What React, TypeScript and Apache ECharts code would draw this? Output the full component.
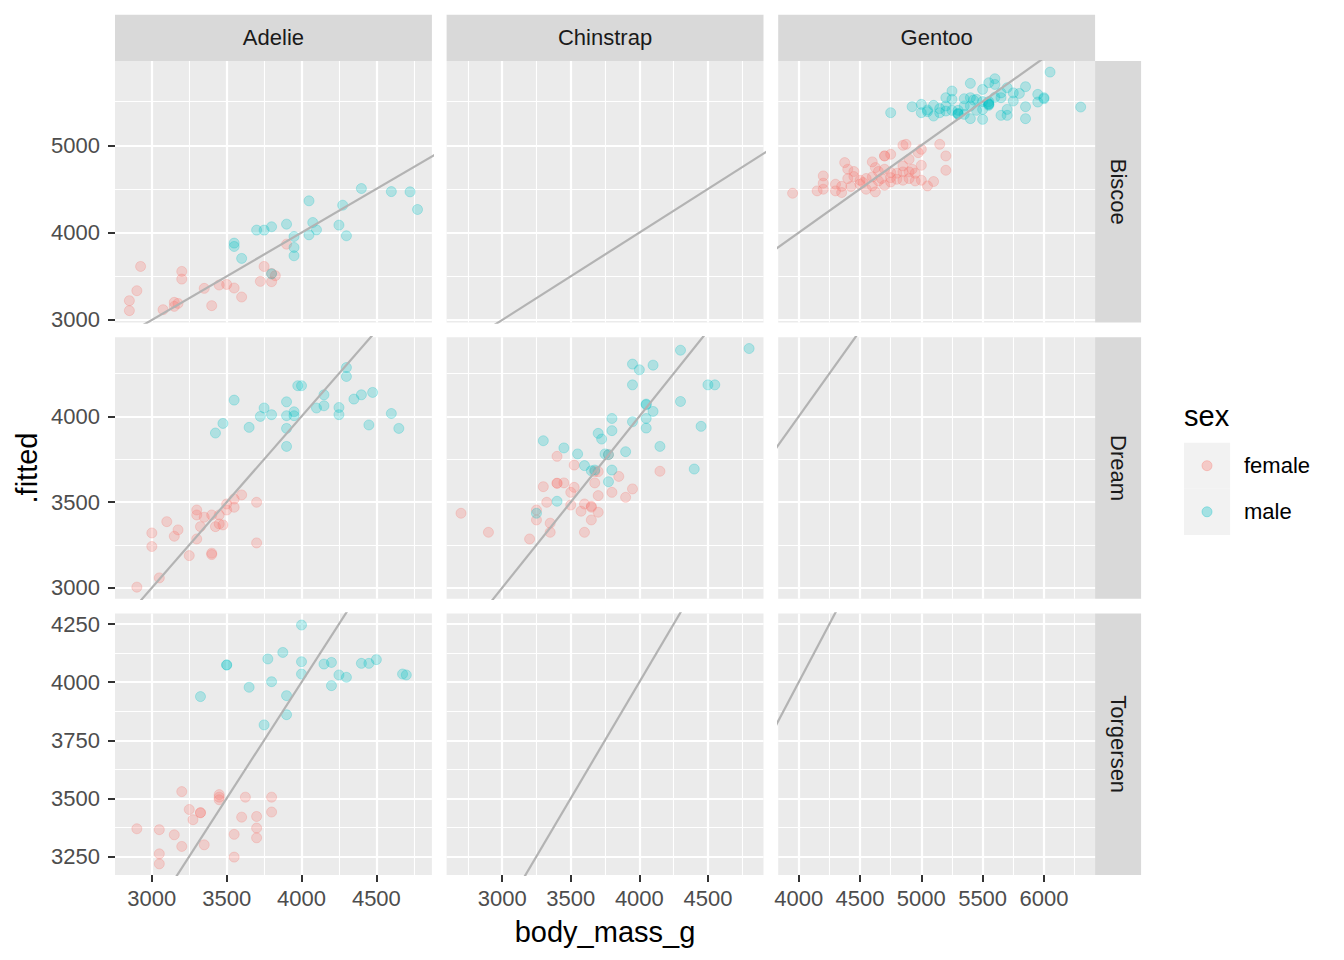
import React, { useEffect, useRef } from "react";
import * as echarts from "echarts";

// ---------- categories ----------
const species = ["Adelie", "Chinstrap", "Gentoo"];
const islands = ["Biscoe", "Dream", "Torgersen"];
const sexes = ["female", "male"];
const sexColors = ["248,118,109", "0,191,196"];

// ---------- axis ranges & ticks ----------
const xRanges: [number, number][] = [[2754, 4871], [2595, 4905], [3832.5, 6417.5]];
const yRanges: [number, number][] = [[2970, 5965], [2936, 4462], [3170, 4296]];
const xTicks = [[3000, 3500, 4000, 4500], [3000, 3500, 4000, 4500], [4000, 4500, 5000, 5500, 6000]];
const yTicks = [[3000, 4000, 5000], [3000, 3500, 4000], [3250, 3500, 3750, 4000, 4250]];
const xIntervals = [500, 500, 500];
const yIntervals = [1000, 500, 250];

// ---------- data: [body_mass_g, .fitted] ----------
const adelieBiscoeFemale = [[2850,3221],[2850,3107],[2900,3335],[2925,3613],[3075,3118],[3150,3202],[3150,3156],[3175,3190],[3200,3556],[3200,3468],[3350,3362],[3400,3164],[3450,3400],[3500,3407],[3550,3366],[3600,3263],[3725,3442],[3750,3613],[3800,3438],[3825,3507],[3800,3533],[3900,3868]];
const adelieBiscoeMale = [[3550,3880],[3550,3842],[3600,3705],[3700,4029],[3750,4029],[3800,4067],[3900,4097],[3950,3956],[3950,3830],[3950,3735],[4050,4364],[4050,3975],[4075,4116],[4100,4032],[4250,4086],[4275,4314],[4300,3964],[4400,4505],[4600,4470],[4725,4467],[4775,4265],[3800,3528]];
const adelieDreamFemale = [[2900,3004],[3050,3058],[3000,3320],[3000,3241],[3100,3386],[3150,3301],[3175,3338],[3250,3188],[3300,3454],[3300,3425],[3300,3285],[3325,3357],[3350,3412],[3400,3425],[3400,3202],[3400,3194],[3425,3357],[3450,3425],[3450,3373],[3475,3367],[3500,3454],[3500,3489],[3550,3470],[3550,3518],[3600,3542],[3700,3499],[3700,3262]];
const adelieDreamMale = [[3425,3903],[3475,3959],[3550,4095],[3650,3936],[3725,4000],[3750,4049],[3800,4010],[3900,4085],[3900,4004],[3900,3930],[3900,3825],[3950,4027],[3950,4004],[3975,4179],[4000,4179],[4100,4049],[4150,4126],[4150,4062],[4250,4052],[4250,4010],[4300,4285],[4300,4233],[4350,4101],[4400,4126],[4475,4140],[4450,3950],[4600,4017],[4650,3930]];
const adelieTorgersenFemale = [[2900,3369],[3050,3365],[3050,3261],[3050,3218],[3150,3343],[3200,3529],[3200,3293],[3250,3452],[3275,3408],[3325,3438],[3325,3438],[3350,3300],[3450,3516],[3450,3494],[3450,3505],[3550,3345],[3550,3247],[3600,3419],[3625,3505],[3700,3422],[3700,3372],[3700,3330],[3800,3505],[3800,3441]];
const adelieTorgersenMale = [[3325,3938],[3500,4074],[3500,4074],[3650,3978],[3750,3816],[3775,4100],[3800,4002],[3875,4128],[3900,3942],[3900,3860],[4000,4246],[4000,4088],[4000,4035],[4150,4078],[4200,4085],[4200,3985],[4250,4031],[4300,4021],[4400,4081],[4450,4081],[4500,4097],[4675,4035],[4700,4031]];
const chinstrapDreamFemale = [[2700,3435],[2900,3324],[3200,3285],[3250,3454],[3250,3396],[3300,3590],[3325,3499],[3350,3377],[3350,3324],[3400,3767],[3400,3610],[3400,3610],[3450,3612],[3500,3557],[3500,3483],[3525,3716],[3525,3586],[3575,3447],[3600,3489],[3600,3324],[3650,3476],[3650,3396],[3675,3678],[3675,3612],[3700,3538],[3700,3441],[3700,3678],[3800,3557],[3850,3650],[3900,3528],[3950,3577],[4150,3680],[3775,3777],[3650,3470]];
const chinstrapDreamMale = [[3250,3435],[3300,3858],[3400,3505],[3450,3816],[3550,3781],[3600,3713],[3650,3683],[3675,3687],[3700,3901],[3725,3868],[3750,3781],[3775,3777],[3775,3619],[3800,3988],[3800,3917],[3800,3687],[3900,3794],[3950,4305],[3950,4184],[3950,3969],[4000,4272],[4050,4072],[4050,4068],[4050,3988],[4050,3932],[4100,4299],[4100,4029],[4150,3825],[4300,4386],[4300,4087],[4400,3693],[4450,3942],[4500,4184],[4550,4184],[4800,4396]];
const gentooBiscoeFemale = [[3950,4451],[4150,4478],[4200,4649],[4200,4566],[4200,4497],[4300,4554],[4300,4478],[4350,4459],[4375,4802],[4400,4726],[4400,4619],[4450,4642],[4425,4528],[4500,4554],[4525,4573],[4550,4497],[4600,4810],[4600,4638],[4600,4535],[4625,4467],[4625,4745],[4650,4592],[4700,4726],[4700,4878],[4700,4878],[4700,4543],[4750,4897],[4750,4688],[4750,4630],[4800,4611],[4850,5000],[4875,5011],[4850,4764],[4850,4695],[4900,4840],[4900,4695],[4900,4619],[4925,4726],[4950,4592],[4975,4916],[5000,4954],[5000,4771],[5000,4600],[5050,4535],[5100,4585],[5150,5011],[5200,4878],[5200,4714],[4550,4620],[4650,4700],[4800,4680],[4750,4580],[4500,4600],[4350,4530],[4450,4700],[4850,4600],[4950,4680],[4675,4620]];
const gentooBiscoeMale = [[4750,5373],[4925,5442],[5000,5469],[5000,5373],[5050,5404],[5050,5385],[5100,5457],[5100,5335],[5150,5373],[5200,5545],[5200,5392],[5250,5621],[5250,5526],[5300,5366],[5300,5354],[5350,5533],[5350,5354],[5400,5709],[5400,5545],[5400,5305],[5425,5518],[5450,5526],[5500,5640],[5500,5411],[5500,5297],[5550,5716],[5550,5469],[5550,5457],[5550,5480],[5600,5762],[5600,5697],[5650,5545],[5650,5343],[5700,5659],[5700,5411],[5700,5343],[5750,5507],[5800,5594],[5850,5671],[5850,5442],[5850,5305],[5950,5583],[5950,5495],[6000,5545],[6000,5533],[6050,5838],[6300,5438],[5300,5400],[5350,5450],[5450,5400],[5500,5500],[5550,5500],[5600,5550],[5650,5600],[5750,5600],[5400,5450],[5250,5400],[5300,5360],[5550,5470],[5200,5450],[5150,5420]];

const panelData: Record<string, number[][][]> = {
  "Adelie|Biscoe": [adelieBiscoeFemale, adelieBiscoeMale],
  "Adelie|Dream": [adelieDreamFemale, adelieDreamMale],
  "Adelie|Torgersen": [adelieTorgersenFemale, adelieTorgersenMale],
  "Chinstrap|Dream": [chinstrapDreamFemale, chinstrapDreamMale],
  "Gentoo|Biscoe": [gentooBiscoeFemale, gentooBiscoeMale],
};

const FONT = "Liberation Sans, Arial, Helvetica, sans-serif";
const plain = (v: number) => String(v);

export default function App() {
  const ref = useRef<HTMLDivElement>(null);
  useEffect(() => {
    if (!ref.current) return;
    const chart = echarts.init(ref.current, undefined, { renderer: "svg" });

    const colLeft = [115, 446.6, 778.2];
    const colW = 316.9;
    const rowTop = [61, 337.2, 613.4];
    const rowH = 261.6;
    const stripTop = 14.7;
    const stripH = 46.3;
    const stripRightW = 46;

    const grids: any[] = [];
    const xAxes: any[] = [];
    const yAxes: any[] = [];
    const series: any[] = [];
    const graphics: any[] = [];

    let idx = 0;
    for (let r = 0; r < 3; r++) {
      for (let c = 0; c < 3; c++) {
        grids.push({
          left: colLeft[c], top: rowTop[r], width: colW, height: rowH,
          show: true, backgroundColor: "#EBEBEB", borderWidth: 0, containLabel: false,
        });
        xAxes.push({
          type: "value", gridIndex: idx,
          min: xRanges[c][0], max: xRanges[c][1],
          minInterval: xIntervals[c], maxInterval: xIntervals[c], splitNumber: 5,
          axisLine: { show: false },
          axisTick: { show: r === 2, length: 7, lineStyle: { color: "#333333", width: 2 }, customValues: xTicks[c] },
          axisLabel: { show: r === 2, customValues: xTicks[c], formatter: plain, color: "#4D4D4D", fontSize: 22, margin: 12, fontFamily: FONT },
          splitLine: { show: true, lineStyle: { color: "#FFFFFF", width: 2.2 } },
          minorTick: { show: false, splitNumber: 2 },
          minorSplitLine: { show: true, lineStyle: { color: "#FFFFFF", width: 1.1 } },
        });
        yAxes.push({
          type: "value", gridIndex: idx,
          min: yRanges[r][0], max: yRanges[r][1],
          minInterval: yIntervals[r], maxInterval: yIntervals[r], splitNumber: 5,
          axisLine: { show: false },
          axisTick: { show: c === 0, length: 7, lineStyle: { color: "#333333", width: 2 }, customValues: yTicks[r] },
          axisLabel: { show: c === 0, customValues: yTicks[r], formatter: plain, color: "#4D4D4D", fontSize: 22, margin: 15, fontFamily: FONT },
          splitLine: { show: true, lineStyle: { color: "#FFFFFF", width: 2.2 } },
          minorTick: { show: false, splitNumber: 2 },
          minorSplitLine: { show: true, lineStyle: { color: "#FFFFFF", width: 1.1 } },
        });

        const key = species[c] + "|" + islands[r];
        const pd = panelData[key];
        if (pd) {
          pd.forEach((pts, s) => {
            series.push({
              type: "scatter", name: sexes[s], xAxisIndex: idx, yAxisIndex: idx,
              data: pts, symbol: "circle", symbolSize: 10, silent: true,
              itemStyle: {
                color: `rgba(${sexColors[s]},0.32)`,
                borderColor: `rgba(${sexColors[s]},0.32)`,
                borderWidth: 1,
              },
            });
          });
        }
        const lo = Math.min(xRanges[c][0], yRanges[r][0]);
        const hi = Math.max(xRanges[c][1], yRanges[r][1]);
        series.push({
          type: "line", xAxisIndex: idx, yAxisIndex: idx, data: [[lo, lo], [hi, hi]],
          showSymbol: false, silent: true, clip: true,
          lineStyle: { color: "#B3B3B3", width: 2.2 },
        });
        idx++;
      }
    }

    // top strips
    for (let c = 0; c < 3; c++) {
      graphics.push({ type: "rect", shape: { x: colLeft[c], y: stripTop, width: colW, height: stripH }, style: { fill: "#D9D9D9" }, silent: true });
      graphics.push({ type: "text", x: colLeft[c] + colW / 2, y: stripTop + stripH / 2, style: { text: species[c], fill: "#1A1A1A", fontSize: 22, fontFamily: FONT, textAlign: "center", textVerticalAlign: "middle" }, silent: true });
    }
    // right strips
    const stripX = colLeft[2] + colW;
    for (let r = 0; r < 3; r++) {
      graphics.push({ type: "rect", shape: { x: stripX, y: rowTop[r], width: stripRightW, height: rowH }, style: { fill: "#D9D9D9" }, silent: true });
      graphics.push({ type: "text", x: stripX + stripRightW / 2, y: rowTop[r] + rowH / 2, rotation: -Math.PI / 2, style: { text: islands[r], fill: "#1A1A1A", fontSize: 22, fontFamily: FONT, textAlign: "center", textVerticalAlign: "middle" }, silent: true });
    }
    // axis titles
    graphics.push({ type: "text", x: 605, y: 932, style: { text: "body_mass_g", fill: "#000000", fontSize: 29, fontFamily: FONT, textAlign: "center", textVerticalAlign: "middle" }, silent: true });
    graphics.push({ type: "text", x: 27, y: 468, rotation: Math.PI / 2, style: { text: ".fitted", fill: "#000000", fontSize: 29, fontFamily: FONT, textAlign: "center", textVerticalAlign: "middle" }, silent: true });
    // legend
    graphics.push({ type: "text", x: 1184, y: 416, style: { text: "sex", fill: "#000000", fontSize: 29, fontFamily: FONT, textAlign: "left", textVerticalAlign: "middle" }, silent: true });
    sexes.forEach((s, i) => {
      const ky = 442.7 + i * 46.1;
      graphics.push({ type: "rect", shape: { x: 1184, y: ky, width: 46.1, height: 46.1 }, style: { fill: "#F2F2F2" }, silent: true });
      graphics.push({ type: "circle", shape: { cx: 1207, cy: ky + 23, r: 5 }, style: { fill: `rgba(${sexColors[i]},0.32)`, stroke: `rgba(${sexColors[i]},0.32)`, lineWidth: 1 }, silent: true });
      graphics.push({ type: "text", x: 1244, y: ky + 23, style: { text: s, fill: "#000000", fontSize: 22, fontFamily: FONT, textAlign: "left", textVerticalAlign: "middle" }, silent: true });
    });

    chart.setOption({
      animation: false,
      backgroundColor: "#FFFFFF",
      grid: grids,
      xAxis: xAxes,
      yAxis: yAxes,
      series,
      graphic: { elements: graphics },
    });
    return () => chart.dispose();
  }, []);
  return <div ref={ref} style={{ position: "fixed", left: 0, top: 0, width: 1344, height: 960 }} />;
}
